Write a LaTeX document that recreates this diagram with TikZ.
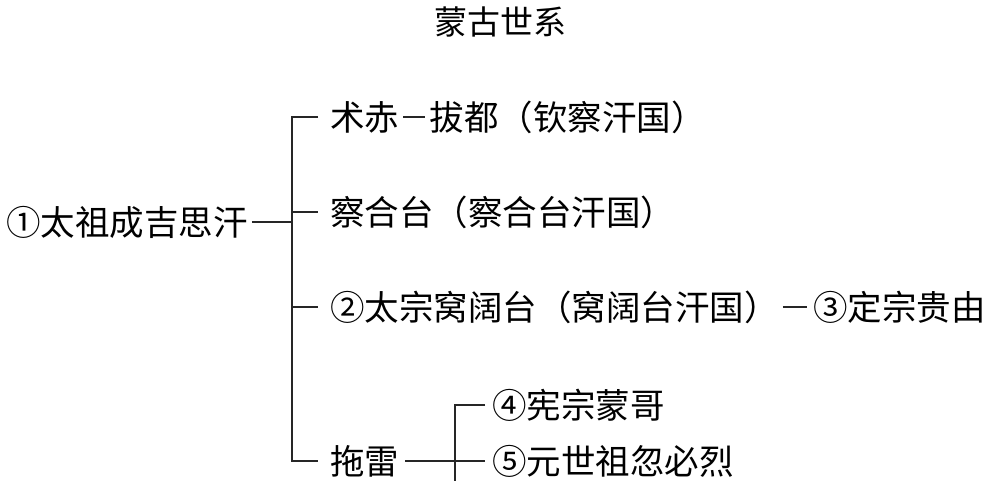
\documentclass[tikz,border=0pt]{standalone}
\usepackage{fontspec}
\newfontfamily\cjk{Noto Sans CJK SC}
\begin{document}
\begin{tikzpicture}[x=1pt,y=-1pt,
  t/.style={anchor=west,inner sep=0pt,font=\cjk\fontsize{34.5}{37}\selectfont},
  ln/.style={line width=1.6pt,black!85}]
\useasboundingbox (0,0) rectangle (1000,481);
\fill[white] (0,0) rectangle (1000,481);
\node[inner sep=0pt,font=\cjk\fontsize{33}{36}\selectfont] (title) at (500,22) {蒙古世系};
\node[t] (root) at (6,222) {①太祖成吉思汗};
\node[t] (a1) at (330,117) {术赤};
\node[t] (a2) at ([xshift=30pt]a1.east) {拔都（钦察汗国）};
\node[t] (b) at (330,212) {察合台（察合台汗国）};
\node[t] (c1) at (330,307) {②太宗窝阔台（窝阔台汗国）};
\node[t] (c2) at ([xshift=34pt]c1.east) {③定宗贵由};
\node[t] (d) at (330,461) {拖雷};
\node[t] (e1) at (492,405) {④宪宗蒙哥};
\node[t] (e2) at (492,461) {⑤元世祖忽必烈};
\coordinate (v1) at (292,222);
\coordinate (v2) at (455,461);
\draw[ln] ([xshift=4pt]root.east) -- (v1);
\draw[ln] (318,117) -| (292,461) -- (318,461);
\draw[ln] (292,212) -- (318,212);
\draw[ln] (292,307) -- (318,307);
\draw[ln] ([xshift=4pt]a1.east) -- ([xshift=-4pt]a2.west);
\draw[ln] ([xshift=4pt]c1.east) -- ([xshift=-6pt]c2.west);
\draw[ln] ([xshift=6pt]d.east) -- (v2);
\draw[ln] (485,405) -| (455,481);
\draw[ln] (v2) -- (485,461);
\end{tikzpicture}
\end{document}
